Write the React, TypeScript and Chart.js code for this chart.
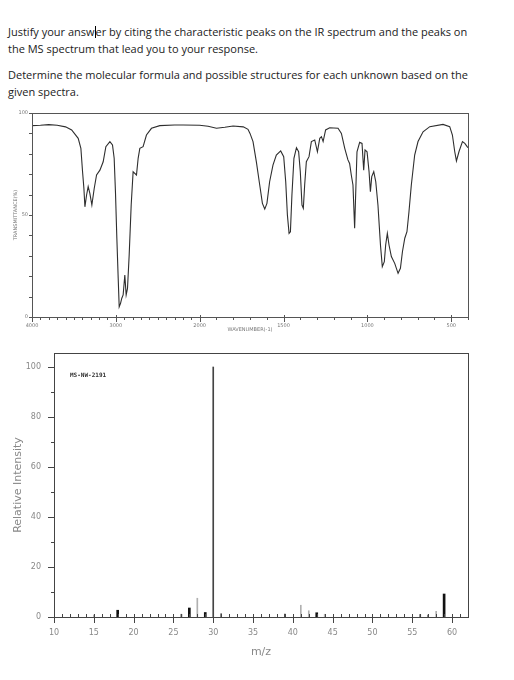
import React, { useEffect, useRef } from 'react';
import { Chart, registerables } from 'chart.js';

Chart.register(...registerables);

// ---------------- IR spectrum data ----------------
const irWavenumbers = [
  4000, 3900, 3800, 3700, 3600, 3527, 3449, 3417, 3397, 3381, 3369, 3349, 3330, 3310, 3286, 3258,
  3230, 3190, 3151, 3119, 3071, 3040, 3020, 3004, 2988, 2972, 2960, 2944, 2929, 2913, 2893, 2877,
  2861, 2841, 2817, 2794, 2774, 2754, 2734, 2714, 2675, 2635, 2575, 2476, 2300, 2198, 2000, 1950,
  1900, 1850, 1801, 1740, 1712, 1700, 1682, 1662, 1642, 1626, 1612, 1599, 1583, 1563, 1543, 1517,
  1499, 1487, 1477, 1467, 1459, 1450, 1438, 1423, 1410, 1400, 1390, 1382, 1374, 1364, 1348, 1334,
  1314, 1298, 1284, 1274, 1264, 1249, 1225, 1175, 1155, 1135, 1116, 1106, 1096, 1086, 1076, 1070,
  1062, 1046, 1032, 1022, 1014, 1002, 990, 982, 974, 962, 950, 937, 922, 911, 899, 891,
  881, 871, 857, 837, 817, 803, 791, 777, 764, 752, 738, 718, 698, 668, 628, 549,
  509, 493, 479, 469, 454, 433, 419, 405, 400,
];
const irTransmittance = [
  93.8, 94, 94.3, 94, 93.2, 91.7, 87.6, 82.7, 71.2, 63, 54, 59.8, 63.9, 60.6, 54.9, 63,
  69.6, 72, 76.1, 83.5, 86, 84.3, 77.8, 60.6, 38.6, 19, 5, 6.7, 9.2, 10.8, 20.6, 10.8,
  14, 30.4, 54.9, 71.2, 70.4, 69.6, 77.8, 82.7, 83.5, 89.2, 92.5, 93.8, 94.1, 94.1, 94, 93.5,
  92.5, 93, 93.6, 93.2, 92, 90, 86, 76, 64.7, 55.7, 52.9, 55.7, 66.3, 74.5, 79.4, 81.4,
  78.6, 66.3, 50, 41, 41.8, 59.8, 77.8, 83, 81, 71.2, 54.9, 53.3, 64.7, 76.1, 78.6, 86,
  86.8, 81, 87.6, 88.4, 86, 91.7, 92.8, 92.5, 90, 82.7, 77, 75.3, 69.6, 64.7, 43.5, 59.8,
  81, 85.6, 85.1, 72, 81.9, 81, 71.2, 61.4, 68.8, 71.2, 66.3, 54.9, 35.3, 24.7, 27.1, 35.3,
  41, 35.3, 29.6, 26.3, 21.4, 23.9, 32, 38.6, 41.8, 51.6, 64.7, 79.4, 86, 90.8, 93.3, 94.4,
  93.3, 89.2, 81, 76.5, 81, 86, 85.1, 83.5, 83,
];
const irLabelWavenumbers = [4000, 3000, 2000, 1500, 1000, 500];
const irYLabels = [0, 50, 100];

// ---------------- Mass spectrum data ----------------
// strong (thick dark) lines
const msMzStrong = [18, 27, 29, 43, 59];
const msIntStrong = [2.7, 3.6, 1.8, 1.7, 9.2];
// fine dark lines
const msMzFine = [26, 30, 31, 39, 56, 57];
const msIntFine = [1.1, 100, 1.3, 1.2, 1.0, 0.8];
// faint (grey) lines
const msMzFaint = [15, 28, 41, 42, 44, 58];
const msIntFaint = [0.8, 7.5, 4.7, 2.5, 1.1, 2.3];
const msXLabels = [10, 15, 20, 25, 30, 35, 40, 45, 50, 55, 60];
const msYLabels = [0, 20, 40, 60, 80, 100];
const msCode = 'MS-NW-2191';

// IR axis is compressed by 2 above 2000 cm-1
const toU = (wn: number) => (wn >= 2000 ? (4000 - wn) / 2 : 1000 + (2000 - wn));
const fromU = (u: number) => (u <= 1000 ? 4000 - 2 * u : 2000 - (u - 1000));

const irFrame = {
  id: 'irFrame',
  afterDraw(chart: any) {
    const { ctx, chartArea: a, scales } = chart;
    ctx.save();
    ctx.strokeStyle = '#555';
    ctx.lineWidth = 1;
    ctx.strokeRect(Math.round(a.left) + 0.5, Math.round(a.top) + 0.5, Math.round(a.right - a.left), Math.round(a.bottom - a.top));
    ctx.beginPath();
    for (let v = 0; v <= 100; v += 10) {
      const y = Math.round(scales.y.getPixelForValue(v)) + 0.5;
      ctx.moveTo(a.left - 3, y);
      ctx.lineTo(a.left, y);
    }
    for (let wn = 4000; wn >= 400; wn -= 100) {
      const x = Math.round(scales.x.getPixelForValue(toU(wn))) + 0.5;
      const major = irLabelWavenumbers.includes(wn);
      ctx.moveTo(x, a.bottom - (major ? 2 : 0));
      ctx.lineTo(x, a.bottom + (major ? 5 : 3));
    }
    ctx.stroke();
    ctx.restore();
  },
};

const msFrame = {
  id: 'msFrame',
  afterDraw(chart: any) {
    const { ctx, chartArea: a, scales } = chart;
    ctx.save();
    ctx.strokeStyle = '#444';
    ctx.lineWidth = 1;
    ctx.strokeRect(Math.round(a.left) + 0.5, Math.round(a.top) + 0.5, Math.round(a.right - a.left), Math.round(a.bottom - a.top));
    ctx.beginPath();
    for (let v = 0; v <= 100; v += 10) {
      const y = Math.round(scales.y.getPixelForValue(v)) + 0.5;
      ctx.moveTo(a.left - (v % 20 === 0 ? 6 : 3), y);
      ctx.lineTo(a.left, y);
    }
    for (let m = 10; m <= 61; m += 1) {
      const x = Math.round(scales.x.getPixelForValue(m)) + 0.5;
      const major = m % 5 === 0;
      ctx.moveTo(x, a.bottom - 3);
      ctx.lineTo(x, a.bottom + (major ? 6 : 1));
    }
    ctx.stroke();
    ctx.restore();
  },
};

const noGrid = { display: false, drawTicks: false };

export default function App() {
  const irRef = useRef<HTMLCanvasElement>(null);
  const msRef = useRef<HTMLCanvasElement>(null);

  useEffect(() => {
    const small = { family: 'DejaVu Sans', size: 5 };
    const ir = new Chart(irRef.current as HTMLCanvasElement, {
      type: 'line',
      data: {
        datasets: [
          {
            data: irWavenumbers.map((w, i) => ({ x: toU(w), y: irTransmittance[i] })),
            borderColor: '#2e2e2e',
            borderWidth: 1.1,
            pointRadius: 0,
            tension: 0,
          },
        ],
      },
      options: {
        animation: false,
        responsive: true,
        maintainAspectRatio: false,
        layout: { padding: { top: 13, right: 46, bottom: 0, left: 0 } },
        plugins: { legend: { display: false }, tooltip: { enabled: false } },
        scales: {
          x: {
            type: 'linear',
            min: 0,
            max: 2600,
            grid: noGrid,
            border: { display: false },
            afterBuildTicks: (s: any) => {
              s.ticks = irLabelWavenumbers.map((w) => ({ value: toU(w) }));
            },
            ticks: {
              callback: (v: any) => String(fromU(Number(v))),
              font: small,
              color: '#777',
              padding: 6,
              maxRotation: 0,
              autoSkip: false,
            },
            title: {
              display: true,
              text: 'WAVENUMBER(-1)',
              font: small,
              color: '#777',
              padding: { top: 0, bottom: 7 },
            },
            afterFit: (s: any) => {
              s.height = 23;
            },
          },
          y: {
            min: 0,
            max: 100,
            grid: noGrid,
            border: { display: false },
            afterBuildTicks: (s: any) => {
              s.ticks = irYLabels.map((v) => ({ value: v }));
            },
            ticks: { font: small, color: '#777', padding: 4 },
            title: {
              display: true,
              text: 'TRANSMITTANCE(%)',
              font: small,
              color: '#777',
              padding: { top: 13, bottom: 0 },
            },
            afterFit: (s: any) => {
              s.width = 32;
              s.paddingTop = 0;
              s.paddingBottom = 0;
            },
          },
        },
      },
      plugins: [irFrame],
    });

    const lab = { family: 'DejaVu Sans', size: 8 };
    const pts = (mz: number[], it: number[]) => mz.map((m, i) => ({ x: m, y: it[i] }));
    const ms = new Chart(msRef.current as HTMLCanvasElement, {
      type: 'bar',
      data: {
        datasets: [
          { data: pts(msMzFaint, msIntFaint), backgroundColor: '#b0b0b0', barThickness: 1, grouped: false },
          { data: pts(msMzFine, msIntFine), backgroundColor: '#444', barThickness: 1, grouped: false },
          { data: pts(msMzStrong, msIntStrong), backgroundColor: '#111', barThickness: 2, grouped: false },
        ] as any,
      },
      options: {
        animation: false,
        responsive: true,
        maintainAspectRatio: false,
        layout: { padding: { top: 8, right: 46, bottom: 0, left: 0 } },
        plugins: { legend: { display: false }, tooltip: { enabled: false } },
        scales: {
          x: {
            type: 'linear',
            min: 10,
            max: 62,
            offset: false,
            grid: noGrid,
            border: { display: false },
            afterBuildTicks: (s: any) => {
              s.ticks = msXLabels.map((v) => ({ value: v }));
            },
            ticks: { font: lab, color: '#888', padding: 11, maxRotation: 0, autoSkip: false },
            title: {
              display: true,
              text: 'm/z',
              font: { family: 'DejaVu Sans', size: 11 },
              color: '#888',
              padding: { top: 0, bottom: 21 },
            },
            afterFit: (s: any) => {
              s.height = 63;
            },
          },
          y: {
            min: 0,
            max: 105.6,
            grid: noGrid,
            border: { display: false },
            afterBuildTicks: (s: any) => {
              s.ticks = msYLabels.map((v) => ({ value: v }));
            },
            ticks: { font: lab, color: '#888', padding: 13 },
            title: {
              display: true,
              text: 'Relative Intensity',
              font: { family: 'DejaVu Sans', size: 11 },
              color: '#888',
              padding: { top: 12, bottom: 0 },
            },
            afterFit: (s: any) => {
              s.width = 54;
              s.paddingTop = 0;
              s.paddingBottom = 0;
            },
          },
        },
      },
      plugins: [msFrame],
    });

    return () => {
      ir.destroy();
      ms.destroy();
    };
  }, []);

  const textStyle: React.CSSProperties = {
    position: 'absolute',
    left: 8,
    fontFamily: '"Open Sans", sans-serif',
    fontSize: 11,
    lineHeight: '17px',
    color: '#222',
    whiteSpace: 'nowrap',
  };

  return (
    <div style={{ position: 'absolute', left: 0, top: 0, width: 514, height: 680, background: '#fff', overflow: 'hidden' }}>
      <div style={{ ...textStyle, top: 22.5 }}>
        Justify your answ
        <span style={{ display: 'inline-block', width: 0, height: 12, borderLeft: '1px solid #000', verticalAlign: '-2px' }} />
        er by citing the characteristic peaks on the IR spectrum and the peaks on
      </div>
      <div style={{ ...textStyle, top: 39.5 }}>the MS spectrum that lead you to your response.</div>
      <div style={{ ...textStyle, top: 65.5 }}>
        Determine the molecular formula and possible structures for each unknown based on the
      </div>
      <div style={{ ...textStyle, top: 82.5 }}>given spectra.</div>

      <div style={{ position: 'absolute', left: 0, top: 100, width: 514, height: 240 }}>
        <canvas ref={irRef} />
      </div>
      <div style={{ position: 'absolute', left: 0, top: 345, width: 514, height: 335 }}>
        <canvas ref={msRef} />
      </div>
      <div
        style={{
          position: 'absolute',
          left: 70,
          top: 371,
          fontFamily: '"DejaVu Sans Mono", monospace',
          fontWeight: 'bold',
          fontSize: 6,
          color: '#333',
          whiteSpace: 'nowrap',
        }}
      >
        {msCode}
      </div>
    </div>
  );
}
